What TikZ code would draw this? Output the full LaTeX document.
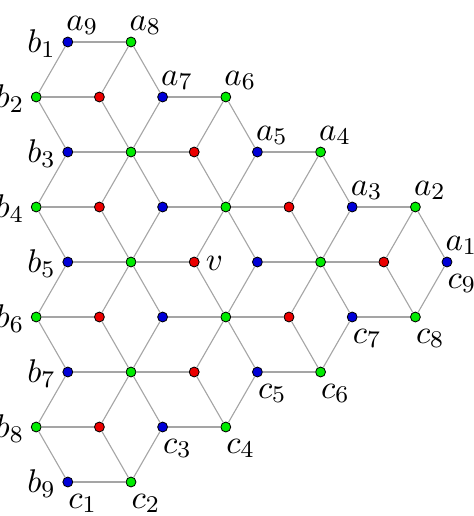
\documentclass[tikz,border=0pt]{standalone}
\usetikzlibrary{calc}
\definecolor{nG}{RGB}{0,235,0}
\definecolor{nR}{RGB}{235,0,0}
\definecolor{nB}{RGB}{0,0,215}
\definecolor{edgegray}{RGB}{165,165,165}
\begin{document}
\begin{tikzpicture}[x=0.3333pt,y=-0.3333pt,
  vtx/.style={circle,draw=black,line width=0.28pt,minimum size=3.3pt,inner sep=0pt},
  edge/.style={draw=edgegray,line width=0.37pt},
  lab/.style={inner sep=0pt,font=\fontsize{10.95}{13}\selectfont}]
\useasboundingbox (0,0) rectangle (474,516);
% vertices
\foreach \k/\r/\c in {1/0/B,3/0/G,
  0/1/G,2/1/R,4/1/B,6/1/G,
  1/2/B,3/2/G,5/2/R,7/2/B,9/2/G,
  0/3/G,2/3/R,4/3/B,6/3/G,8/3/R,10/3/B,12/3/G,
  1/4/B,3/4/G,5/4/R,7/4/B,9/4/G,11/4/R,13/4/B,
  0/5/G,2/5/R,4/5/B,6/5/G,8/5/R,10/5/B,12/5/G,
  1/6/B,3/6/G,5/6/R,7/6/B,9/6/G,
  0/7/G,2/7/R,4/7/B,6/7/G,
  1/8/B,3/8/G}
  \node[vtx,fill=n\c] (p\k-\r) at ({36.2+31.6*\k},{42+55*\r}) {};
% edges (every edge joins a green vertex to a neighbour)
\foreach \g/\nbs in {3-0/{1-0,2-1,4-1},
  0-1/{2-1,1-0,1-2},
  6-1/{4-1,5-2,7-2},
  3-2/{1-2,5-2,2-1,4-1,2-3,4-3},
  9-2/{7-2,8-3,10-3},
  0-3/{2-3,1-2,1-4},
  6-3/{4-3,8-3,5-2,7-2,5-4,7-4},
  12-3/{10-3,11-4,13-4},
  3-4/{1-4,5-4,2-3,4-3,2-5,4-5},
  9-4/{7-4,11-4,8-3,10-3,8-5,10-5},
  0-5/{2-5,1-4,1-6},
  6-5/{4-5,8-5,5-4,7-4,5-6,7-6},
  12-5/{10-5,11-4,13-4},
  3-6/{1-6,5-6,2-5,4-5,2-7,4-7},
  9-6/{7-6,8-5,10-5},
  0-7/{2-7,1-6,1-8},
  6-7/{4-7,5-6,7-6},
  3-8/{1-8,2-7,4-7}}
  {\foreach \n in \nbs {\draw[edge] (p\g) -- (p\n);}}
% a labels
\foreach \i/\p in {9/1-0,8/3-0,7/4-1,6/6-1,5/7-2,4/9-2,3/10-3,2/12-3,1/13-4}
  \node[lab,anchor=base west] (la\i) at ($(p\p)+(-2,-12)$) {$a_{\i}$};
% b labels
\foreach \i/\p in {1/1-0,2/0-1,3/1-2,4/0-3,5/1-4,6/0-5,7/1-6,8/0-7,9/1-8}
  \node[lab,anchor=base east] (lb\i) at ($(p\p)+(-11.5,10.5)$) {$b_{\i}$};
% c labels
\foreach \i/\p in {1/1-8,2/3-8,3/4-7,4/6-7,5/7-6,6/9-6,7/10-5,8/12-5,9/13-4}
  \node[lab,anchor=base west] (lc\i) at ($(p\p)+(0,26)$) {$c_{\i}$};
\node[lab,anchor=base west] (lv) at ($(p5-4)+(11,8)$) {$v$};
\end{tikzpicture}
\end{document}
